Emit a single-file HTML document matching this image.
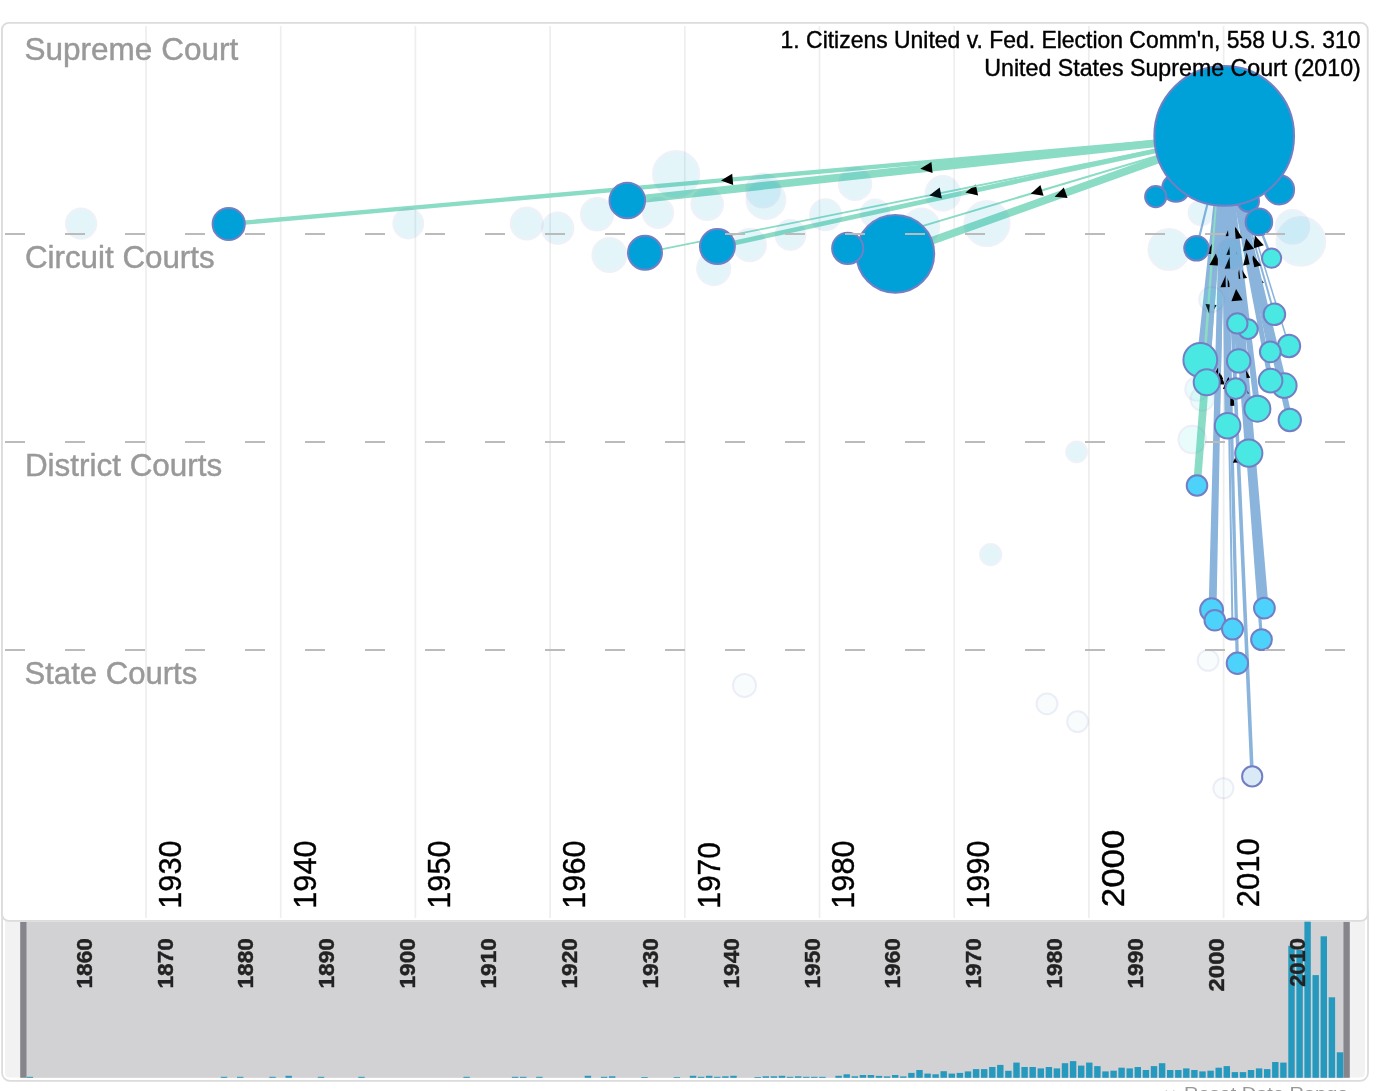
<!DOCTYPE html>
<html lang="en"><head><meta charset="utf-8"><title>Citizens United v. Fed. Election Comm'n - Case Map</title>
<style>
html,body{margin:0;padding:0;background:#fff;}
body{width:1378px;height:1091px;overflow:hidden;position:relative;font-family:"Liberation Sans",sans-serif;}
svg{position:absolute;left:0;top:0;display:block;}
text{font-family:"Liberation Sans",sans-serif;}
.court{font-size:31.6px;fill:#999;stroke:#999;stroke-width:0.45px;}
.title{font-size:23.6px;fill:#000;stroke:#000;stroke-width:0.4px;}
.yr{font-size:32px;fill:#000;stroke:#000;stroke-width:0.4px;}
.byr{font-size:21.3px;font-weight:bold;fill:#222;stroke:#222;stroke-width:0.4px;}
.reset{font-size:17px;fill:#999;}
</style></head><body>
<svg width="1378" height="1091" viewBox="0 0 1378 1091">
<g id="brush-panel">
<rect x="2.1" y="905" width="1365.9" height="175.9" rx="8" ry="8" fill="#fff" stroke="#dcdcdc" stroke-width="1.8"/>
<rect x="5.1" y="905" width="1359.9" height="172.6" rx="4.5" ry="4.5" fill="#f3f2f3"/>
<rect x="26.6" y="921.9" width="1317" height="155.9" fill="#d2d1d4"/>
<rect x="20.2" y="921.9" width="6.4" height="155.9" fill="#86858b"/>
<rect x="1343.4" y="921.9" width="6.4" height="155.9" fill="#86858b"/>
<g fill="#2699bf">
<rect x="26.7" y="1076.8" width="6.4" height="1.0"/>
<rect x="220.8" y="1076.8" width="6.4" height="1.0"/>
<rect x="237.0" y="1076.8" width="6.4" height="1.0"/>
<rect x="269.3" y="1076.8" width="6.4" height="1.0"/>
<rect x="285.5" y="1075.8" width="6.4" height="2.0"/>
<rect x="317.8" y="1076.8" width="6.4" height="1.0"/>
<rect x="358.3" y="1076.8" width="6.4" height="1.0"/>
<rect x="463.4" y="1076.8" width="6.4" height="1.0"/>
<rect x="511.9" y="1076.8" width="6.4" height="1.0"/>
<rect x="520.0" y="1076.8" width="6.4" height="1.0"/>
<rect x="536.2" y="1076.8" width="6.4" height="1.0"/>
<rect x="584.7" y="1075.8" width="6.4" height="2.0"/>
<rect x="600.9" y="1076.8" width="6.4" height="1.0"/>
<rect x="609.0" y="1076.3" width="6.4" height="1.5"/>
<rect x="641.3" y="1077.0" width="6.4" height="0.8"/>
<rect x="673.7" y="1077.0" width="6.4" height="0.8"/>
<rect x="689.8" y="1075.8" width="6.4" height="2.0"/>
<rect x="697.9" y="1076.8" width="6.4" height="1.0"/>
<rect x="706.0" y="1075.8" width="6.4" height="2.0"/>
<rect x="714.1" y="1076.8" width="6.4" height="1.0"/>
<rect x="722.2" y="1076.3" width="6.4" height="1.5"/>
<rect x="730.3" y="1075.8" width="6.4" height="2.0"/>
<rect x="754.5" y="1077.0" width="6.4" height="0.8"/>
<rect x="762.6" y="1076.3" width="6.4" height="1.5"/>
<rect x="770.7" y="1076.3" width="6.4" height="1.5"/>
<rect x="778.8" y="1075.8" width="6.4" height="2.0"/>
<rect x="786.9" y="1076.8" width="6.4" height="1.0"/>
<rect x="795.0" y="1076.3" width="6.4" height="1.5"/>
<rect x="803.1" y="1076.8" width="6.4" height="1.0"/>
<rect x="811.1" y="1076.8" width="6.4" height="1.0"/>
<rect x="819.2" y="1076.8" width="6.4" height="1.0"/>
<rect x="835.4" y="1075.8" width="6.4" height="2.0"/>
<rect x="843.5" y="1074.3" width="6.4" height="3.5"/>
<rect x="851.6" y="1076.3" width="6.4" height="1.5"/>
<rect x="859.7" y="1075.0" width="6.4" height="2.8"/>
<rect x="867.7" y="1075.0" width="6.4" height="2.8"/>
<rect x="875.8" y="1075.9" width="6.4" height="1.9"/>
<rect x="883.9" y="1076.4" width="6.4" height="1.4"/>
<rect x="892.0" y="1075.0" width="6.4" height="2.8"/>
<rect x="900.1" y="1076.4" width="6.4" height="1.4"/>
<rect x="908.2" y="1072.9" width="6.4" height="4.9"/>
<rect x="916.3" y="1070.0" width="6.4" height="7.8"/>
<rect x="924.4" y="1073.6" width="6.4" height="4.2"/>
<rect x="932.4" y="1074.3" width="6.4" height="3.5"/>
<rect x="940.5" y="1071.2" width="6.4" height="6.6"/>
<rect x="948.6" y="1073.6" width="6.4" height="4.2"/>
<rect x="956.7" y="1072.9" width="6.4" height="4.9"/>
<rect x="964.8" y="1071.4" width="6.4" height="6.4"/>
<rect x="972.9" y="1069.1" width="6.4" height="8.7"/>
<rect x="981.0" y="1069.1" width="6.4" height="8.7"/>
<rect x="989.1" y="1067.0" width="6.4" height="10.8"/>
<rect x="997.1" y="1064.9" width="6.4" height="12.9"/>
<rect x="1005.2" y="1070.8" width="6.4" height="7.0"/>
<rect x="1013.3" y="1062.6" width="6.4" height="15.2"/>
<rect x="1021.4" y="1067.0" width="6.4" height="10.8"/>
<rect x="1029.5" y="1067.0" width="6.4" height="10.8"/>
<rect x="1037.6" y="1068.4" width="6.4" height="9.4"/>
<rect x="1045.7" y="1067.0" width="6.4" height="10.8"/>
<rect x="1053.7" y="1068.4" width="6.4" height="9.4"/>
<rect x="1061.8" y="1063.2" width="6.4" height="14.6"/>
<rect x="1069.9" y="1061.1" width="6.4" height="16.7"/>
<rect x="1078.0" y="1065.6" width="6.4" height="12.2"/>
<rect x="1086.1" y="1062.6" width="6.4" height="15.2"/>
<rect x="1094.2" y="1066.1" width="6.4" height="11.7"/>
<rect x="1102.3" y="1071.4" width="6.4" height="6.4"/>
<rect x="1110.4" y="1070.7" width="6.4" height="7.1"/>
<rect x="1118.4" y="1067.7" width="6.4" height="10.1"/>
<rect x="1126.5" y="1068.4" width="6.4" height="9.4"/>
<rect x="1134.6" y="1067.0" width="6.4" height="10.8"/>
<rect x="1142.7" y="1070.0" width="6.4" height="7.8"/>
<rect x="1150.8" y="1066.1" width="6.4" height="11.7"/>
<rect x="1158.9" y="1063.2" width="6.4" height="14.6"/>
<rect x="1167.0" y="1070.0" width="6.4" height="7.8"/>
<rect x="1175.1" y="1070.0" width="6.4" height="7.8"/>
<rect x="1183.1" y="1068.4" width="6.4" height="9.4"/>
<rect x="1191.2" y="1070.0" width="6.4" height="7.8"/>
<rect x="1199.3" y="1071.4" width="6.4" height="6.4"/>
<rect x="1207.4" y="1070.7" width="6.4" height="7.1"/>
<rect x="1215.5" y="1067.7" width="6.4" height="10.1"/>
<rect x="1223.6" y="1066.1" width="6.4" height="11.7"/>
<rect x="1231.7" y="1072.1" width="6.4" height="5.7"/>
<rect x="1239.8" y="1072.1" width="6.4" height="5.7"/>
<rect x="1247.8" y="1070.0" width="6.4" height="7.8"/>
<rect x="1255.9" y="1068.4" width="6.4" height="9.4"/>
<rect x="1264.0" y="1069.1" width="6.4" height="8.7"/>
<rect x="1272.1" y="1062.0" width="6.4" height="15.8"/>
<rect x="1280.2" y="1062.6" width="6.4" height="15.2"/>
<rect x="1288.3" y="945.8" width="6.4" height="132.0"/>
<rect x="1296.4" y="949.8" width="6.4" height="128.0"/>
<rect x="1304.4" y="921.0" width="6.4" height="156.8"/>
<rect x="1312.5" y="975.1" width="6.4" height="102.7"/>
<rect x="1320.6" y="936.3" width="6.4" height="141.5"/>
<rect x="1328.7" y="997.3" width="6.4" height="80.5"/>
<rect x="1336.8" y="1052.3" width="6.4" height="25.5"/>
</g>
<text class="byr" text-anchor="end" transform="translate(91.6,938.2) rotate(-90)" textLength="50.3" lengthAdjust="spacingAndGlyphs">1860</text>
<text class="byr" text-anchor="end" transform="translate(172.5,938.2) rotate(-90)" textLength="50.3" lengthAdjust="spacingAndGlyphs">1870</text>
<text class="byr" text-anchor="end" transform="translate(253.4,938.2) rotate(-90)" textLength="50.3" lengthAdjust="spacingAndGlyphs">1880</text>
<text class="byr" text-anchor="end" transform="translate(334.2,938.2) rotate(-90)" textLength="50.3" lengthAdjust="spacingAndGlyphs">1890</text>
<text class="byr" text-anchor="end" transform="translate(415.1,938.2) rotate(-90)" textLength="50.3" lengthAdjust="spacingAndGlyphs">1900</text>
<text class="byr" text-anchor="end" transform="translate(496.0,938.2) rotate(-90)" textLength="50.3" lengthAdjust="spacingAndGlyphs">1910</text>
<text class="byr" text-anchor="end" transform="translate(576.8,938.2) rotate(-90)" textLength="50.3" lengthAdjust="spacingAndGlyphs">1920</text>
<text class="byr" text-anchor="end" transform="translate(657.7,938.2) rotate(-90)" textLength="50.3" lengthAdjust="spacingAndGlyphs">1930</text>
<text class="byr" text-anchor="end" transform="translate(738.6,938.2) rotate(-90)" textLength="50.3" lengthAdjust="spacingAndGlyphs">1940</text>
<text class="byr" text-anchor="end" transform="translate(819.5,938.2) rotate(-90)" textLength="50.3" lengthAdjust="spacingAndGlyphs">1950</text>
<text class="byr" text-anchor="end" transform="translate(900.3,938.2) rotate(-90)" textLength="50.3" lengthAdjust="spacingAndGlyphs">1960</text>
<text class="byr" text-anchor="end" transform="translate(981.2,938.2) rotate(-90)" textLength="50.3" lengthAdjust="spacingAndGlyphs">1970</text>
<text class="byr" text-anchor="end" transform="translate(1062.1,938.2) rotate(-90)" textLength="50.3" lengthAdjust="spacingAndGlyphs">1980</text>
<text class="byr" text-anchor="end" transform="translate(1142.9,938.2) rotate(-90)" textLength="50.3" lengthAdjust="spacingAndGlyphs">1990</text>
<text class="byr" text-anchor="end" transform="translate(1223.8,938.2) rotate(-90)" textLength="53.3" lengthAdjust="spacingAndGlyphs">2000</text>
<text class="byr" text-anchor="end" transform="translate(1304.7,938.2) rotate(-90)" textLength="48.6" lengthAdjust="spacingAndGlyphs">2010</text>
</g>
<text class="reset" x="1162.6" y="1102.2" textLength="14" lengthAdjust="spacingAndGlyphs" style="font-size:18px">✕</text>
<text class="reset" x="1184" y="1098.8" textLength="164.5" lengthAdjust="spacingAndGlyphs">Reset Date Range</text>
<g id="main">
<rect x="1.95" y="22.9" width="1365.8" height="898.0" rx="6.8" ry="6.8" fill="#fff" stroke="#dcdcdc" stroke-width="1.9"/>
<g stroke="#eeeeee" stroke-width="1.7">
<line x1="146.0" y1="26" x2="146.0" y2="918"/>
<line x1="280.7" y1="26" x2="280.7" y2="918"/>
<line x1="415.4" y1="26" x2="415.4" y2="918"/>
<line x1="550.1" y1="26" x2="550.1" y2="918"/>
<line x1="684.8" y1="26" x2="684.8" y2="918"/>
<line x1="819.5" y1="26" x2="819.5" y2="918"/>
<line x1="954.2" y1="26" x2="954.2" y2="918"/>
<line x1="1088.9" y1="26" x2="1088.9" y2="918"/>
<line x1="1223.6" y1="26" x2="1223.6" y2="918"/>
</g>
<g id="links">
<line x1="1224.2" y1="135.9" x2="228.7" y2="224.0" stroke="#8adcc4" stroke-width="4.4"/>
<polygon points="721.0,180.4 732.2,173.8 733.2,185.0" fill="#000"/>
<line x1="1224.2" y1="135.9" x2="627.3" y2="200.5" stroke="#8adcc4" stroke-width="7.8"/>
<polygon points="920.3,168.8 931.4,162.0 932.6,173.1" fill="#000"/>
<line x1="1224.2" y1="135.9" x2="717.4" y2="246.6" stroke="#8adcc4" stroke-width="4.8"/>
<polygon points="965.4,192.4 975.8,184.4 978.1,195.4" fill="#000"/>
<line x1="1224.2" y1="135.9" x2="645.0" y2="252.7" stroke="#8adcc4" stroke-width="1.8"/>
<polygon points="929.2,195.4 939.7,187.6 941.9,198.5" fill="#000"/>
<line x1="1224.2" y1="135.9" x2="895.3" y2="253.8" stroke="#8adcc4" stroke-width="7.8"/>
<polygon points="1054.6,196.7 1063.8,187.5 1067.6,198.0" fill="#000"/>
<line x1="1224.2" y1="135.9" x2="847.7" y2="248.4" stroke="#8adcc4" stroke-width="2.0"/>
<polygon points="1030.7,193.7 1040.4,185.0 1043.6,195.7" fill="#000"/>
<line x1="1224.2" y1="135.9" x2="1176.0" y2="188.0" stroke="#8adcc4" stroke-width="3"/>
<line x1="1224.2" y1="135.9" x2="1155.7" y2="196.6" stroke="#8adcc4" stroke-width="3"/>
<line x1="1224.2" y1="135.9" x2="1200.3" y2="360.0" stroke="#8ab4dc" stroke-width="7"/>
<polygon points="1212.8,242.5 1217.2,254.8 1206.0,253.6" fill="#000"/>
<line x1="1224.2" y1="135.9" x2="1197.0" y2="485.5" stroke="#8adcc4" stroke-width="7.7"/>
<polygon points="1210.2,316.2 1205.5,304.0 1216.7,304.9" fill="#000"/>
<line x1="1224.2" y1="135.9" x2="1279.3" y2="189.7" stroke="#8ab4dc" stroke-width="3"/>
<line x1="1224.2" y1="135.9" x2="1248.4" y2="201.2" stroke="#8ab4dc" stroke-width="3"/>
<line x1="1224.2" y1="135.9" x2="1258.9" y2="221.9" stroke="#8ab4dc" stroke-width="4"/>
<line x1="1224.2" y1="135.9" x2="1196.5" y2="248.3" stroke="#8ab4dc" stroke-width="2.2"/>
<polygon points="1211.7,186.8 1214.3,199.6 1203.4,196.9" fill="#000"/>
<line x1="1224.2" y1="135.9" x2="1271.6" y2="258.2" stroke="#8ab4dc" stroke-width="2.5"/>
<polygon points="1245.9,191.9 1255.4,200.9 1245.0,204.9" fill="#000"/>
<line x1="1224.2" y1="135.9" x2="1274.4" y2="314.3" stroke="#8ab4dc" stroke-width="2"/>
<polygon points="1247.8,219.8 1256.4,229.6 1245.6,232.7" fill="#000"/>
<line x1="1224.2" y1="135.9" x2="1289.0" y2="346.0" stroke="#8ab4dc" stroke-width="1.5"/>
<polygon points="1255.0,235.7 1263.8,245.3 1253.1,248.6" fill="#000"/>
<line x1="1224.2" y1="135.9" x2="1206.7" y2="382.3" stroke="#8ab4dc" stroke-width="5"/>
<polygon points="1215.8,253.6 1220.6,265.8 1209.4,265.0" fill="#000"/>
<line x1="1224.2" y1="135.9" x2="1211.6" y2="609.8" stroke="#8ab4dc" stroke-width="6"/>
<polygon points="1218.0,367.4 1223.3,379.3 1212.1,379.0" fill="#000"/>
<line x1="1224.2" y1="135.9" x2="1214.8" y2="620.3" stroke="#8ab4dc" stroke-width="3"/>
<polygon points="1219.6,372.6 1225.0,384.5 1213.8,384.3" fill="#000"/>
<line x1="1224.2" y1="135.9" x2="1264.4" y2="608.1" stroke="#8ab4dc" stroke-width="8.5"/>
<polygon points="1243.8,366.5 1250.4,377.8 1239.3,378.8" fill="#000"/>
<line x1="1224.2" y1="135.9" x2="1261.5" y2="639.6" stroke="#8ab4dc" stroke-width="3.2"/>
<polygon points="1242.4,382.3 1248.9,393.6 1237.7,394.4" fill="#000"/>
<line x1="1224.2" y1="135.9" x2="1237.4" y2="663.3" stroke="#8ab4dc" stroke-width="3.3"/>
<polygon points="1230.7,394.1 1236.6,405.8 1225.4,406.0" fill="#000"/>
<line x1="1224.2" y1="135.9" x2="1252.2" y2="776.4" stroke="#8ab4dc" stroke-width="3.6"/>
<polygon points="1238.0,450.7 1244.1,462.2 1232.9,462.7" fill="#000"/>
<line x1="1224.2" y1="135.9" x2="1289.8" y2="420.0" stroke="#8ab4dc" stroke-width="6"/>
<polygon points="1255.8,272.6 1263.9,282.8 1253.0,285.3" fill="#000"/>
<line x1="1224.2" y1="135.9" x2="1284.3" y2="385.6" stroke="#8ab4dc" stroke-width="6"/>
<polygon points="1253.0,255.4 1261.2,265.6 1250.3,268.2" fill="#000"/>
<line x1="1224.2" y1="135.9" x2="1257.4" y2="408.7" stroke="#8ab4dc" stroke-width="6"/>
<polygon points="1240.1,266.8 1247.1,277.9 1236.0,279.2" fill="#000"/>
<line x1="1224.2" y1="135.9" x2="1270.6" y2="380.6" stroke="#8ab4dc" stroke-width="5"/>
<polygon points="1246.4,252.8 1254.1,263.4 1243.1,265.5" fill="#000"/>
<line x1="1224.2" y1="135.9" x2="1270.3" y2="351.8" stroke="#8ab4dc" stroke-width="4"/>
<polygon points="1246.1,238.5 1254.0,248.8 1243.1,251.2" fill="#000"/>
<line x1="1224.2" y1="135.9" x2="1227.6" y2="425.7" stroke="#8ab4dc" stroke-width="6"/>
<polygon points="1225.8,275.3 1231.6,287.0 1220.4,287.2" fill="#000"/>
<line x1="1224.2" y1="135.9" x2="1232.5" y2="629.1" stroke="#8ab4dc" stroke-width="2"/>
<polygon points="1228.3,377.0 1234.1,388.7 1222.9,388.9" fill="#000"/>
<line x1="1224.2" y1="135.9" x2="1235.7" y2="388.6" stroke="#8ab4dc" stroke-width="3"/>
<polygon points="1229.7,256.8 1235.8,268.3 1224.6,268.8" fill="#000"/>
<line x1="1224.2" y1="135.9" x2="1238.7" y2="360.9" stroke="#8ab4dc" stroke-width="5"/>
<polygon points="1231.1,242.9 1237.4,254.3 1226.3,255.0" fill="#000"/>
<line x1="1224.2" y1="135.9" x2="1248.0" y2="329.1" stroke="#8ab4dc" stroke-width="3"/>
<polygon points="1235.4,227.0 1242.4,238.1 1231.3,239.4" fill="#000"/>
<line x1="1224.2" y1="135.9" x2="1237.3" y2="323.4" stroke="#8ab4dc" stroke-width="4"/>
<polygon points="1230.4,224.2 1236.8,235.5 1225.6,236.3" fill="#000"/>
<line x1="1224.2" y1="135.9" x2="1248.8" y2="453.1" stroke="#8ab4dc" stroke-width="7"/>
<polygon points="1236.1,289.0 1242.6,300.3 1231.4,301.2" fill="#000"/>
</g>
<g stroke="#6f7dc4" stroke-width="2">
<circle cx="81.1" cy="223.6" r="15.2" fill="#00a1d9" opacity="0.1"/>
<circle cx="408.3" cy="223.6" r="14.9" fill="#00a1d9" opacity="0.1"/>
<circle cx="526.8" cy="223.6" r="16.0" fill="#00a1d9" opacity="0.1"/>
<circle cx="557.7" cy="228.2" r="15.7" fill="#00a1d9" opacity="0.1"/>
<circle cx="597.1" cy="214.3" r="16.2" fill="#00a1d9" opacity="0.1"/>
<circle cx="658" cy="212.9" r="15.1" fill="#00a1d9" opacity="0.1"/>
<circle cx="609.4" cy="254.9" r="17.0" fill="#00a1d9" opacity="0.1"/>
<circle cx="676.1" cy="174.1" r="23.1" fill="#00a1d9" opacity="0.1"/>
<circle cx="707.2" cy="204.3" r="15.8" fill="#00a1d9" opacity="0.1"/>
<circle cx="763.1" cy="190.4" r="17.0" fill="#00a1d9" opacity="0.1"/>
<circle cx="765.9" cy="199.7" r="19.4" fill="#00a1d9" opacity="0.1"/>
<circle cx="749.7" cy="245" r="16.2" fill="#00a1d9" opacity="0.1"/>
<circle cx="713.7" cy="268.6" r="16.6" fill="#00a1d9" opacity="0.1"/>
<circle cx="790.5" cy="235" r="14.9" fill="#00a1d9" opacity="0.1"/>
<circle cx="825.6" cy="214.8" r="15.5" fill="#00a1d9" opacity="0.1"/>
<circle cx="855.1" cy="183.9" r="16.2" fill="#00a1d9" opacity="0.1"/>
<circle cx="875.1" cy="213.6" r="14.2" fill="#00a1d9" opacity="0.1"/>
<circle cx="921.5" cy="226.4" r="17.8" fill="#00a1d9" opacity="0.1"/>
<circle cx="942.9" cy="193.4" r="17.3" fill="#00a1d9" opacity="0.1"/>
<circle cx="987" cy="223.6" r="22.5" fill="#00a1d9" opacity="0.1"/>
<circle cx="1169" cy="249.5" r="20.5" fill="#00a1d9" opacity="0.1"/>
<circle cx="1201" cy="212.8" r="12.4" fill="#00a1d9" opacity="0.1"/>
<circle cx="1231.5" cy="254" r="15.2" fill="#00a1d9" opacity="0.1"/>
<circle cx="1292.5" cy="226.8" r="16.9" fill="#00a1d9" opacity="0.1"/>
<circle cx="1300.8" cy="241.4" r="24.4" fill="#00a1d9" opacity="0.1"/>
<circle cx="1211.7" cy="299.4" r="12.4" fill="#4ae8e2" opacity="0.12"/>
<circle cx="1197" cy="388.9" r="11.7" fill="#4ae8e2" opacity="0.12"/>
<circle cx="1202.3" cy="399" r="11.7" fill="#4ae8e2" opacity="0.12"/>
<circle cx="1192.2" cy="439.5" r="13.7" fill="#4ae8e2" opacity="0.12"/>
<circle cx="1076.6" cy="451.8" r="10.4" fill="#00a1d9" opacity="0.1"/>
<circle cx="990.7" cy="554.6" r="10.6" fill="#00a1d9" opacity="0.1"/>
<circle cx="744.5" cy="685.4" r="11.5" fill="#d9e9f6" opacity="0.13"/>
<circle cx="1047" cy="703.8" r="10.4" fill="#d9e9f6" opacity="0.13"/>
<circle cx="1077.6" cy="721.6" r="10.4" fill="#d9e9f6" opacity="0.13"/>
<circle cx="1208.1" cy="660.4" r="10.4" fill="#d9e9f6" opacity="0.13"/>
<circle cx="1223.4" cy="788.3" r="10.0" fill="#d9e9f6" opacity="0.13"/>
</g>
<g stroke="#737fc5" stroke-width="2">
<circle cx="228.7" cy="224.0" r="16.1" fill="#00a1d9"/>
<circle cx="627.3" cy="200.5" r="17.8" fill="#00a1d9"/>
<circle cx="717.4" cy="246.6" r="17.5" fill="#00a1d9"/>
<circle cx="645.0" cy="252.7" r="17.0" fill="#00a1d9"/>
<circle cx="895.3" cy="253.8" r="38.9" fill="#00a1d9"/>
<circle cx="847.7" cy="248.4" r="15.6" fill="#00a1d9"/>
<circle cx="1176.0" cy="188.0" r="13.8" fill="#00a1d9"/>
<circle cx="1155.7" cy="196.6" r="10.6" fill="#00a1d9"/>
<circle cx="1200.3" cy="360.0" r="16.9" fill="#4ae8e2"/>
<circle cx="1197.0" cy="485.5" r="10.3" fill="#4dd2fb"/>
<circle cx="1279.3" cy="189.7" r="14.8" fill="#00a1d9"/>
<circle cx="1248.4" cy="201.2" r="10.6" fill="#00a1d9"/>
<circle cx="1258.9" cy="221.9" r="13.3" fill="#00a1d9"/>
<circle cx="1196.5" cy="248.3" r="12.3" fill="#00a1d9"/>
<circle cx="1271.6" cy="258.2" r="9.6" fill="#4ae8e2"/>
<circle cx="1274.4" cy="314.3" r="10.8" fill="#4ae8e2"/>
<circle cx="1289.0" cy="346.0" r="11.2" fill="#4ae8e2"/>
<circle cx="1206.7" cy="382.3" r="13.0" fill="#4ae8e2"/>
<circle cx="1211.6" cy="609.8" r="11.5" fill="#4dd2fb"/>
<circle cx="1214.8" cy="620.3" r="10.3" fill="#4dd2fb"/>
<circle cx="1264.4" cy="608.1" r="10.4" fill="#4dd2fb"/>
<circle cx="1261.5" cy="639.6" r="10.4" fill="#4dd2fb"/>
<circle cx="1237.4" cy="663.3" r="10.7" fill="#4dd2fb"/>
<circle cx="1252.2" cy="776.4" r="10.1" fill="#d9e9f6"/>
<circle cx="1289.8" cy="420.0" r="11.2" fill="#4ae8e2"/>
<circle cx="1284.3" cy="385.6" r="12.3" fill="#4ae8e2"/>
<circle cx="1257.4" cy="408.7" r="13.0" fill="#4ae8e2"/>
<circle cx="1270.6" cy="380.6" r="11.8" fill="#4ae8e2"/>
<circle cx="1270.3" cy="351.8" r="10.4" fill="#4ae8e2"/>
<circle cx="1227.6" cy="425.7" r="12.8" fill="#4ae8e2"/>
<circle cx="1232.5" cy="629.1" r="10.5" fill="#4dd2fb"/>
<circle cx="1235.7" cy="388.6" r="10.3" fill="#4ae8e2"/>
<circle cx="1238.7" cy="360.9" r="11.7" fill="#4ae8e2"/>
<circle cx="1248.0" cy="329.1" r="9.8" fill="#4ae8e2"/>
<circle cx="1237.3" cy="323.4" r="10.2" fill="#4ae8e2"/>
<circle cx="1248.8" cy="453.1" r="13.6" fill="#4ae8e2"/>
<circle cx="1224.2" cy="135.9" r="69.85" fill="#00a1d9"/>
</g>
<g stroke="#bbbbbb" stroke-width="2" stroke-dasharray="20 40">
<line x1="5" y1="233.9" x2="1366" y2="233.9"/>
<line x1="5" y1="441.9" x2="1366" y2="441.9"/>
<line x1="5" y1="649.9" x2="1366" y2="649.9"/>
</g>
<text class="court" x="24.5" y="60.2" textLength="213.7" lengthAdjust="spacingAndGlyphs">Supreme Court</text>
<text class="court" x="24.9" y="268.0" textLength="189.8" lengthAdjust="spacingAndGlyphs">Circuit Courts</text>
<text class="court" x="24.9" y="475.9" textLength="197.3" lengthAdjust="spacingAndGlyphs">District Courts</text>
<text class="court" x="24.5" y="683.9" textLength="172.8" lengthAdjust="spacingAndGlyphs">State Courts</text>
<text class="yr" transform="translate(180.9,908.7) rotate(-90)" textLength="68.3" lengthAdjust="spacingAndGlyphs">1930</text>
<text class="yr" transform="translate(315.6,908.7) rotate(-90)" textLength="68.3" lengthAdjust="spacingAndGlyphs">1940</text>
<text class="yr" transform="translate(450.3,908.7) rotate(-90)" textLength="68.3" lengthAdjust="spacingAndGlyphs">1950</text>
<text class="yr" transform="translate(585.0,908.7) rotate(-90)" textLength="68.3" lengthAdjust="spacingAndGlyphs">1960</text>
<text class="yr" transform="translate(719.7,908.7) rotate(-90)" textLength="66.6" lengthAdjust="spacingAndGlyphs">1970</text>
<text class="yr" transform="translate(854.4,908.7) rotate(-90)" textLength="68.3" lengthAdjust="spacingAndGlyphs">1980</text>
<text class="yr" transform="translate(989.1,908.7) rotate(-90)" textLength="68.3" lengthAdjust="spacingAndGlyphs">1990</text>
<text class="yr" transform="translate(1123.8,907.2) rotate(-90)" textLength="77.6" lengthAdjust="spacingAndGlyphs">2000</text>
<text class="yr" transform="translate(1258.5,907.2) rotate(-90)" textLength="69.0" lengthAdjust="spacingAndGlyphs">2010</text>
<text class="title" x="780.6" y="47.8" textLength="580" lengthAdjust="spacingAndGlyphs">1. Citizens United v. Fed. Election Comm&#39;n, 558 U.S. 310</text>
<text class="title" x="984.3" y="75.8" textLength="376.5" lengthAdjust="spacingAndGlyphs">United States Supreme Court (2010)</text>
</g>
</svg>
</body></html>
